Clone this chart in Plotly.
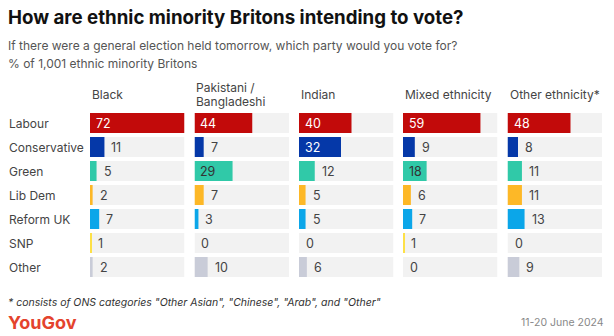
import plotly.graph_objects as go

parties = ["Labour", "Conservative", "Green", "Lib Dem", "Reform UK", "SNP", "Other"]
groups = ["Black", "Pakistani /<br>Bangladeshi", "Indian", "Mixed ethnicity", "Other ethnicity*"]
black = [72, 11, 5, 2, 7, 1, 2]
pak_bang = [44, 7, 29, 7, 3, 0, 10]
indian = [40, 32, 12, 5, 5, 0, 6]
mixed = [59, 9, 18, 6, 7, 1, 0]
other_eth = [48, 8, 11, 11, 13, 0, 9]
series = [black, pak_bang, indian, mixed, other_eth]

colors = ["#c20a0a", "#0538a8", "#30c9a8", "#fdb827", "#0ba6e9", "#fde047", "#c9ccd8"]
inside_text_colors = ["#ffffff", "#ffffff", "#333333", "#333333", "#333333", "#333333", "#333333"]
XMAX = 72
W, H = 614, 336
FONT = "Inter"

fig = go.Figure()
starts = [90, 194.5, 299, 403, 507.5]
pw = 94.5
y_top, y_bot = 111, 279

annotations = []
for i, (vals, grp) in enumerate(zip(series, groups)):
    ax = "x" if i == 0 else f"x{i+1}"
    fig.add_trace(go.Bar(x=[XMAX] * len(parties), y=parties, orientation="h",
                         marker=dict(color="#f2f2f2", line=dict(width=0)),
                         xaxis=ax, yaxis="y", hoverinfo="skip", showlegend=False))
    fig.add_trace(go.Bar(x=vals, y=parties, orientation="h",
                         marker=dict(color=colors, line=dict(width=0)),
                         xaxis=ax, yaxis="y", hoverinfo="skip", showlegend=False))
    key = "xaxis" if i == 0 else f"xaxis{i+1}"
    fig.update_layout({key: dict(domain=[starts[i] / W, (starts[i] + pw) / W], range=[0, XMAX],
                                 visible=False, fixedrange=True, anchor="y")})
    for j, v in enumerate(vals):
        inside = v >= 15
        annotations.append(dict(
            xref=ax, yref="y", x=0 if inside else v, y=parties[j], text=str(v),
            showarrow=False, xanchor="left", xshift=4 if inside else 5,
            font=dict(family=FONT, size=12.5,
                      color=inside_text_colors[j] if inside else "#444444")))
    lines = grp.split("<br>")
    n = len(lines)
    for k, line in enumerate(lines):
        yc = 94.5 + (k - (n - 1) / 2) * 14
        annotations.append(dict(
            xref="paper", yref="paper", x=starts[i] / W, y=(H - yc) / H, text=line,
            showarrow=False, xanchor="left", yanchor="middle", align="left",
            font=dict(family=FONT, size=12, color="#444444")))

for j, p in enumerate(parties):
    annotations.append(dict(xref="paper", yref="y", x=7 / W, y=p, text=p, showarrow=False,
                            xanchor="left", font=dict(family=FONT, size=12, color="#444444")))

# titles and footer
annotations += [
    dict(xref="paper", yref="paper", x=6 / W, y=(H - 17) / H, text="<b>How are ethnic minority Britons intending to vote?</b>",
         showarrow=False, xanchor="left", yanchor="middle", font=dict(family=FONT, size=18.7, color="#111111")),
    dict(xref="paper", yref="paper", x=6 / W, y=(H - 46) / H,
         text="If there were a general election held tomorrow, which party would you vote for?",
         showarrow=False, xanchor="left", yanchor="middle", font=dict(family=FONT, size=12, color="#555555")),
    dict(xref="paper", yref="paper", x=6 / W, y=(H - 63) / H, text="% of 1,001 ethnic minority Britons",
         showarrow=False, xanchor="left", yanchor="middle", font=dict(family=FONT, size=12, color="#555555")),
    dict(xref="paper", yref="paper", x=6 / W, y=(H - 302) / H,
         text='<i>* consists of ONS categories "Other Asian", "Chinese", "Arab", and "Other"</i>',
         showarrow=False, xanchor="left", yanchor="middle", font=dict(family=FONT, size=10.5, color="#333333")),
    dict(xref="paper", yref="paper", x=6 / W, y=(H - 322) / H, text="<b>YouGov</b>",
         showarrow=False, xanchor="left", yanchor="middle", font=dict(family=FONT, size=18, color="#e4432d")),
    dict(xref="paper", yref="paper", x=606 / W, y=(H - 322) / H, text="11-20 June 2024",
         showarrow=False, xanchor="right", yanchor="middle", font=dict(family=FONT, size=10.5, color="#888888")),
]

fig.update_layout(
    width=W, height=H, margin=dict(l=0, r=0, t=0, b=0),
    paper_bgcolor="white", plot_bgcolor="white",
    barmode="overlay", bargap=4 / 24,
    yaxis=dict(domain=[(H - y_bot) / H, (H - y_top) / H], categoryorder="array",
               categoryarray=parties, range=[6.5, -0.5], visible=False, fixedrange=True),
    annotations=annotations, showlegend=False, font=dict(family=FONT),
)

fig.write_html("out.html", config={"displayModeBar": False})
